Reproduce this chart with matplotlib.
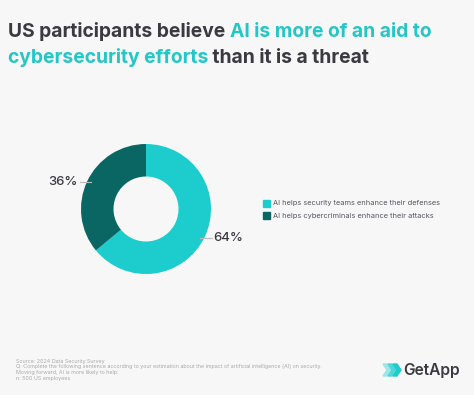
import matplotlib.pyplot as plt
from matplotlib.patches import Polygon

# data
labels = ["AI helps security teams enhance their defenses",
          "AI helps cybercriminals enhance their attacks"]
values = [64, 36]
colors = ["#1dcdcd", "#0a6663"]

title_parts = [("US participants believe ", "#3a3a40"),
               ("AI is more of an aid to", "#25c6c6")]
title_parts2 = [("cybersecurity efforts", "#25c6c6"),
                (" than it is a threat", "#3a3a40")]
footer = ["Source: 2024 Data Security Survey",
          "Q: Complete the following sentence according to your estimation about the impact of artificial intelligence (AI) on security.",
          "Moving forward, AI is more likely to help:",
          "n: 500 US employees"]

W, H = 474, 395
fig = plt.figure(figsize=(W / 100, H / 100), dpi=100)
fig.patch.set_facecolor("#f7f7f7")
plt.rcParams['font.family'] = ['Inter', 'DejaVu Sans']
renderer = fig.canvas.get_renderer()


def px(x, y):
    return x / W, 1 - y / H


def width_of(txt, size, weight):
    t = fig.text(0, 0, txt, fontsize=size, fontweight=weight)
    w = t.get_window_extent(renderer=renderer).width
    t.remove()
    return w


def fit_size(txt, target, weight='normal'):
    return 10 * target / width_of(txt, 10, weight)


# title drawn piece by piece to get the two colours
def colored_line(parts, x, y, size):
    cx = x
    for txt, col in parts:
        t = fig.text(*px(cx, y), txt, color=col, fontsize=size, fontweight='bold',
                     va='baseline', ha='left')
        cx += t.get_window_extent(renderer=renderer).width


tsize = fit_size("".join(p[0] for p in title_parts), 424, 'bold')
colored_line(title_parts, 8, 37, tsize)
colored_line(title_parts2, 8, 63, tsize)

# donut
ax = fig.add_axes([(146 - 65) / W, 1 - (209 + 65) / H, 130 / W, 130 / H])
wedges, _ = ax.pie(values, colors=colors, startangle=90, counterclock=False,
                   wedgeprops=dict(width=0.5, edgecolor='none'), radius=1)
ax.set_xlim(-1, 1)
ax.set_ylim(-1, 1)
ax.set_aspect('equal')
ax.axis('off')

# percent labels with short leader lines
for (x0, x1, y) in [(80, 91, 182), (200, 212, 238)]:
    fig.add_artist(plt.Line2D([px(x0, y)[0], px(x1, y)[0]], [px(x0, y)[1]] * 2,
                              color='#bbbbbb', lw=0.8))
psize = fit_size("64%", 30, 'medium')
fig.text(*px(78, 182), f"{values[1]}%", ha='right', va='center', fontsize=psize,
         color='#3a3a40', fontweight='medium')
fig.text(*px(213, 238), f"{values[0]}%", ha='left', va='center', fontsize=psize,
         color='#3a3a40', fontweight='medium')

# legend
lsize = fit_size(labels[0], 167)
for i, (lab, col) in enumerate(zip(labels, colors)):
    y = 203 + i * 13
    fig.patches.append(plt.Rectangle(px(263, y + 3.5), 7 / W, 7 / H, color=col,
                                     transform=fig.transFigure, figure=fig))
    fig.text(*px(273, y), lab, ha='left', va='center', fontsize=lsize, color='#555560')

# footer
fsize = fit_size(footer[1], 311)
for i, line in enumerate(footer):
    fig.text(*px(16, 361 + i * 5.8), line, ha='left', va='center', fontsize=fsize,
             color='#aaaaaa')

# GetApp logo
for dx, col in [(0, '#9be6e6'), (5, '#4fd6d6'), (10, '#1dcdcd')]:
    x0 = 383 + dx
    pts = [px(x0, 364), px(x0 + 4, 364), px(x0 + 8, 370), px(x0 + 4, 376),
           px(x0, 376), px(x0 + 4, 370)]
    fig.patches.append(Polygon(pts, closed=True, color=col,
                               transform=fig.transFigure, figure=fig))
fig.text(*px(403, 370), "GetApp", ha='left', va='center',
         fontsize=fit_size("GetApp", 57, 'semibold'),
         fontweight='semibold', color='#3a3a40')

fig.savefig("out.png", dpi=100, facecolor=fig.get_facecolor())
